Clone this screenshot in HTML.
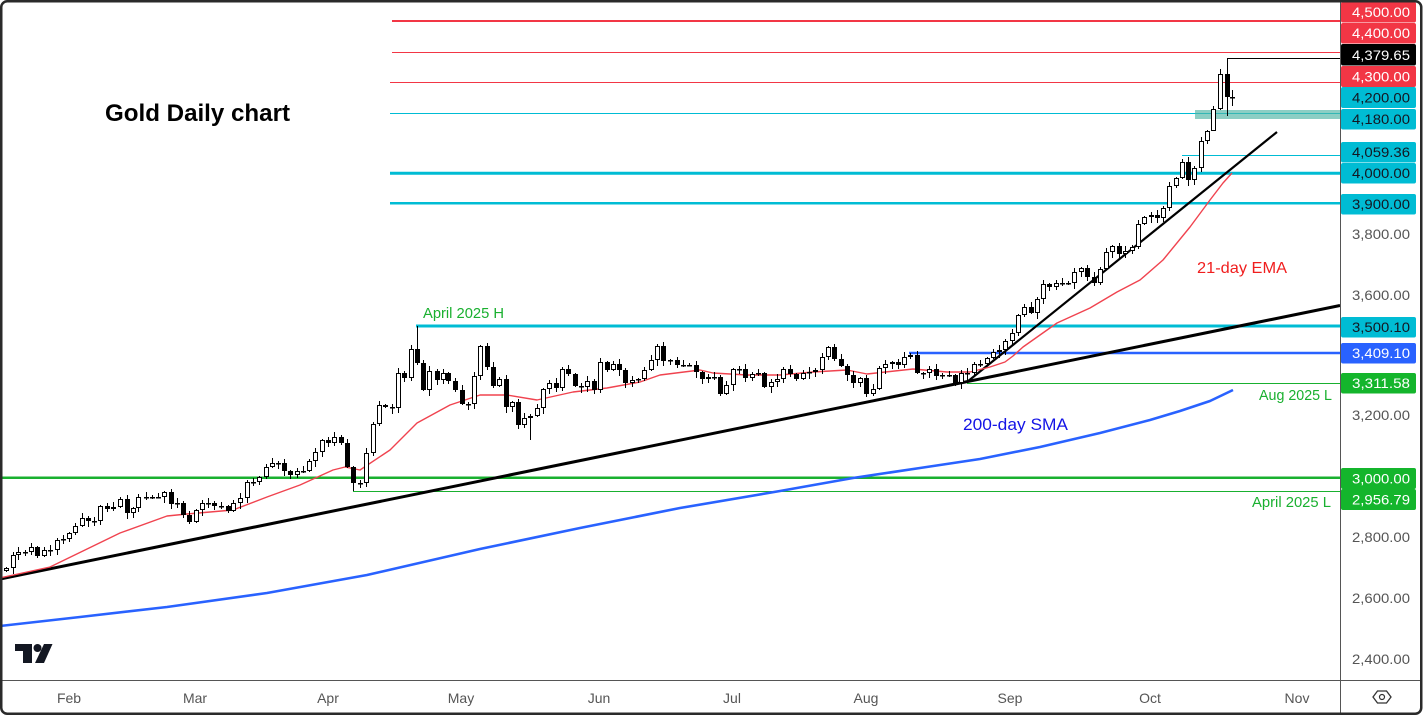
<!DOCTYPE html>
<html>
<head>
<meta charset="utf-8">
<style>
html,body{margin:0;padding:0;background:#fff;}
svg{display:block;}
text{font-family:"Liberation Sans",sans-serif;}
</style>
</head>
<body>
<svg id="c" width="1424" height="716" viewBox="0 0 1424 716" xmlns="http://www.w3.org/2000/svg">
  <rect x="0" y="0" width="1424" height="716" fill="#fff"/>

  <!-- horizontal levels -->
  <line x1="392" y1="21" x2="1340" y2="21" stroke="#f23645" stroke-width="2"/>
  <line x1="392" y1="52.5" x2="1340" y2="52.5" stroke="#f23645" stroke-width="1"/>
  <line x1="390" y1="82.5" x2="1340" y2="82.5" stroke="#f23645" stroke-width="1"/>
  <line x1="390" y1="113.5" x2="1340" y2="113.5" stroke="#00bcd4" stroke-width="1"/>
  <rect x="1195" y="110" width="145" height="9" fill="#4fb3a5" fill-opacity="0.65"/>
  <line x1="1182" y1="155.5" x2="1340" y2="155.5" stroke="#00bcd4" stroke-width="1"/>
  <line x1="390" y1="173.3" x2="1340" y2="173.3" stroke="#00bcd4" stroke-width="3"/>
  <line x1="390" y1="203.3" x2="1340" y2="203.3" stroke="#00bcd4" stroke-width="2.5"/>
  <line x1="416" y1="326" x2="1340" y2="326" stroke="#00bcd4" stroke-width="3"/>
  <line x1="909" y1="353" x2="1340" y2="353" stroke="#2962ff" stroke-width="2.5"/>
  <line x1="967" y1="383.5" x2="1340" y2="383.5" stroke="#19b02f" stroke-width="1"/>
  <line x1="0" y1="477.8" x2="1340" y2="477.8" stroke="#19b02f" stroke-width="2.5"/>
  <line x1="353" y1="491.5" x2="1340" y2="491.5" stroke="#19b02f" stroke-width="1"/>
  <polyline points="1227,58.5 1340,58.5" fill="none" stroke="#000" stroke-width="1"/>

  <!-- 200-day SMA -->
  <polyline fill="none" stroke="#2962ff" stroke-width="2.6" stroke-linejoin="round"
    points="0,626 80,617 167,607 267,593 367,575 480,549 580,528 680,508 780,491 853,478 920,468 980,459 1040,447 1100,433 1150,420 1180,411 1210,401 1233,390"/>

  <!-- long trend line -->
  <line x1="0" y1="579" x2="1340" y2="305.5" stroke="#000" stroke-width="3"/>
  <!-- short steep trend line -->
  <line x1="967" y1="382" x2="1277" y2="132" stroke="#000" stroke-width="2.2"/>

  <!-- 21-day EMA -->
  <polyline fill="none" stroke="#f0434f" stroke-width="1.4" stroke-linejoin="round"
    points="0,578 50,567 120,533 167,516 187,514 233,510 267,497 300,485 333,470 345,467 360,470 390,450 417,423 450,405 480,395 507,395 537,400 573,392 607,388 640,382 660,375 700,370 713,373 747,375 780,375 813,372 847,370 867,374 913,369 947,372 970,372 990,367 1005,362 1013,356 1023,347 1057,323 1090,308 1117,292 1140,280 1163,260 1190,227 1210,200 1223,183 1232,173"/>

  <g id="candles"></g>

  <!-- texts on chart -->
  <text x="105" y="121" font-size="24" font-weight="bold" fill="#000" textLength="185" lengthAdjust="spacingAndGlyphs">Gold Daily chart</text>
  <text x="423" y="318" font-size="15" fill="#19b02f" textLength="81" lengthAdjust="spacingAndGlyphs">April 2025 H</text>
  <text x="1197" y="273" font-size="16" fill="#f01e1e" textLength="90" lengthAdjust="spacingAndGlyphs">21-day EMA</text>
  <text x="963" y="430" font-size="17" fill="#1414e6" textLength="105" lengthAdjust="spacingAndGlyphs">200-day SMA</text>
  <text x="1259" y="400" font-size="14.5" fill="#19b02f" textLength="73" lengthAdjust="spacingAndGlyphs">Aug 2025 L</text>
  <text x="1252" y="507" font-size="14.5" fill="#19b02f" textLength="79" lengthAdjust="spacingAndGlyphs">April 2025 L</text>

  <!-- TradingView logo -->
  <g fill="#131722">
    <rect x="15" y="644" width="17" height="7"/>
    <rect x="23" y="644" width="9" height="19"/>
    <circle cx="37.5" cy="648" r="4"/>
    <polygon points="44,644 52.5,644 44,663 35,663"/>
  </g>

  <!-- axes -->
  <line x1="0" y1="680.5" x2="1421" y2="680.5" stroke="#555" stroke-width="1"/>
  <line x1="1340.5" y1="0" x2="1340.5" y2="714" stroke="#555" stroke-width="1"/>

  <!-- month labels -->
  <g font-size="14" fill="#555" text-anchor="middle">
    <text x="69" y="703">Feb</text>
    <text x="195" y="703">Mar</text>
    <text x="328" y="703">Apr</text>
    <text x="461" y="703">May</text>
    <text x="599" y="703">Jun</text>
    <text x="732" y="703">Jul</text>
    <text x="866" y="703">Aug</text>
    <text x="1010" y="703">Sep</text>
    <text x="1150" y="703">Oct</text>
    <text x="1297" y="703">Nov</text>
  </g>

  <!-- settings icon -->
  <polygon points="1373,697 1377.5,691 1386.5,691 1391,697 1386.5,703 1377.5,703" fill="none" stroke="#333" stroke-width="1.3"/>
  <circle cx="1382" cy="697" r="2.5" fill="none" stroke="#333" stroke-width="1.2"/>

  <!-- plain price labels -->
  <g font-size="14" fill="#555" text-anchor="end">
    <text x="1410" y="239" textLength="58" lengthAdjust="spacingAndGlyphs">3,800.00</text>
    <text x="1410" y="300" textLength="58" lengthAdjust="spacingAndGlyphs">3,600.00</text>
    <text x="1410" y="420" textLength="58" lengthAdjust="spacingAndGlyphs">3,200.00</text>
    <text x="1410" y="542" textLength="58" lengthAdjust="spacingAndGlyphs">2,800.00</text>
    <text x="1410" y="603" textLength="58" lengthAdjust="spacingAndGlyphs">2,600.00</text>
    <text x="1410" y="664" textLength="58" lengthAdjust="spacingAndGlyphs">2,400.00</text>
  </g>

  <!-- label boxes -->
  <g>
    <rect x="1341" y="2" width="75" height="20.5" rx="2" fill="#f23645"/>
    <rect x="1341" y="23" width="75" height="20.5" rx="2" fill="#f23645"/>
    <rect x="1341" y="44" width="75" height="21.5" rx="2" fill="#000"/>
    <rect x="1341" y="66" width="75" height="21" rx="2" fill="#f23645"/>
    <rect x="1341" y="87" width="75" height="21" rx="2" fill="#00bcd4"/>
    <rect x="1341" y="109" width="75" height="20.5" rx="2" fill="#00bcd4"/>
    <rect x="1341" y="142" width="75" height="20.5" rx="2" fill="#00bcd4"/>
    <rect x="1341" y="163" width="75" height="20.5" rx="2" fill="#00bcd4"/>
    <rect x="1341" y="194" width="75" height="20.5" rx="2" fill="#00bcd4"/>
    <rect x="1341" y="317" width="75" height="20.5" rx="2" fill="#00bcd4"/>
    <rect x="1341" y="343" width="75" height="20.5" rx="2" fill="#2962ff"/>
    <rect x="1341" y="373" width="75" height="20.5" rx="2" fill="#14b52c"/>
    <rect x="1341" y="468" width="75" height="21" rx="2" fill="#14b52c"/>
    <rect x="1341" y="489" width="75" height="21" rx="2" fill="#14b52c"/>
  </g>
  <g font-size="14" text-anchor="end">
    <text x="1410" y="17" fill="#fff" textLength="58" lengthAdjust="spacingAndGlyphs">4,500.00</text>
    <text x="1410" y="38" fill="#fff" textLength="58" lengthAdjust="spacingAndGlyphs">4,400.00</text>
    <text x="1410" y="60" fill="#fff" textLength="58" lengthAdjust="spacingAndGlyphs">4,379.65</text>
    <text x="1410" y="81.5" fill="#fff" textLength="58" lengthAdjust="spacingAndGlyphs">4,300.00</text>
    <text x="1410" y="102.5" fill="#131722" textLength="58" lengthAdjust="spacingAndGlyphs">4,200.00</text>
    <text x="1410" y="124" fill="#131722" textLength="58" lengthAdjust="spacingAndGlyphs">4,180.00</text>
    <text x="1410" y="157" fill="#131722" textLength="58" lengthAdjust="spacingAndGlyphs">4,059.36</text>
    <text x="1410" y="178" fill="#131722" textLength="58" lengthAdjust="spacingAndGlyphs">4,000.00</text>
    <text x="1410" y="209" fill="#131722" textLength="58" lengthAdjust="spacingAndGlyphs">3,900.00</text>
    <text x="1410" y="332" fill="#131722" textLength="58" lengthAdjust="spacingAndGlyphs">3,500.10</text>
    <text x="1410" y="358" fill="#fff" textLength="58" lengthAdjust="spacingAndGlyphs">3,409.10</text>
    <text x="1410" y="388" fill="#fff" textLength="58" lengthAdjust="spacingAndGlyphs">3,311.58</text>
    <text x="1410" y="483.5" fill="#fff" textLength="58" lengthAdjust="spacingAndGlyphs">3,000.00</text>
    <text x="1410" y="504.5" fill="#fff" textLength="58" lengthAdjust="spacingAndGlyphs">2,956.79</text>
  </g>

  <!-- outer border -->
  <rect x="1.25" y="1.25" width="1420" height="712.5" rx="6" fill="none" stroke="#2a2a2a" stroke-width="2.5"/>
</svg>
<script>
(function(){
var s="6,568,13,555,18,552,25,552,31,547,37,556,44,550,50,550,57,540,63,539,69,533,75,526,82,518,88,521,94,521,100,506,107,509,113,507,120,499,127,513,133,508,138,497,146,497,152,497,158,497,164,492,171,504,177,503,183,515,189,522,196,510,202,503,208,503,214,506,221,506,228,511,233,503,240,498,247,482,253,482,259,477,266,467,272,463,278,463,284,471,290,475,297,471,303,471,309,461,315,452,322,440,328,443,334,437,341,443,347,467,353,483,360,483,366,453,373,424,379,405,385,407,392,408,398,373,404,378,411,349,417,363,423,390,429,371,437,380,443,373,448,381,455,390,462,404,468,404,474,376,480,346,487,367,493,386,499,379,506,407,512,402,518,425,524,418,530,416,537,408,543,389,549,383,556,388,562,369,568,374,575,386,581,387,587,381,594,390,600,362,607,370,613,364,619,370,625,383,632,380,638,379,644,370,651,360,657,346,663,361,670,360,677,365,683,365,689,365,696,372,702,379,708,377,714,377,720,394,726,385,733,369,739,369,745,378,752,374,758,373,764,387,771,382,777,379,783,369,790,374,796,379,803,373,809,372,815,370,822,357,828,347,834,359,841,366,847,375,853,383,860,378,866,394,873,389,879,368,885,364,892,362,898,365,904,357,910,355,917,373,923,373,929,369,936,376,942,375,949,375,955,383,961,373,967,373,974,364,980,364,987,358,993,352,999,350,1005,341,1012,333,1018,315,1024,307,1031,313,1037,299,1043,284,1049,287,1056,283,1062,284,1068,283,1074,272,1081,268,1087,277,1094,283,1100,269,1106,252,1112,246,1119,254,1125,251,1132,247,1138,224,1144,217,1151,215,1157,218,1163,208,1169,186,1176,178,1182,162,1188,180,1194,168,1201,141,1207,131,1213,109,1220,74,1227,97,1232,98";
var D=s.split(",").map(Number);
var ov={417:[326,null],1227:[58,116],1232:[90,106],353:[null,491],955:[null,386],530:[null,440],967:[null,383],1213:[null,121]};
var NS="http://www.w3.org/2000/svg";
var g=document.getElementById("candles");
var wicks=document.createElementNS(NS,"g"), bodies=document.createElementNS(NS,"g");
g.appendChild(wicks); g.appendChild(bodies);
var o=571;
for(var i=0;i<D.length/2;i++){
  var x=D[2*i], c=D[2*i+1];
  var top=Math.min(o,c), bot=Math.max(o,c);
  var hi=top-(1+(i*7)%5), lo=bot+(1+(i*11)%6);
  if(ov[x]){ if(ov[x][0]!=null) hi=ov[x][0]; if(ov[x][1]!=null) lo=ov[x][1]; }
  var cx=Math.round(x);
  var w=document.createElementNS(NS,"line");
  w.setAttribute("x1",cx+0.5); w.setAttribute("x2",cx+0.5);
  w.setAttribute("y1",hi); w.setAttribute("y2",lo);
  w.setAttribute("stroke","#000"); w.setAttribute("stroke-width","1");
  wicks.appendChild(w);
  if(bot-top<1.5){
    var l=document.createElementNS(NS,"rect");
    l.setAttribute("x",cx-2); l.setAttribute("y",Math.round(top)); l.setAttribute("width",5); l.setAttribute("height",1.5);
    l.setAttribute("fill","#000");
    bodies.appendChild(l);
  } else {
    var r=document.createElementNS(NS,"rect");
    r.setAttribute("x",cx-1.5); r.setAttribute("y",Math.round(top)+0.5);
    r.setAttribute("width",4); r.setAttribute("height",Math.max(1,Math.round(bot)-Math.round(top)-1));
    r.setAttribute("stroke","#000"); r.setAttribute("stroke-width","1");
    r.setAttribute("fill", c<o ? "#fff" : "#000");
    bodies.appendChild(r);
  }
  o=c;
}
})();
</script>
</body>
</html>
